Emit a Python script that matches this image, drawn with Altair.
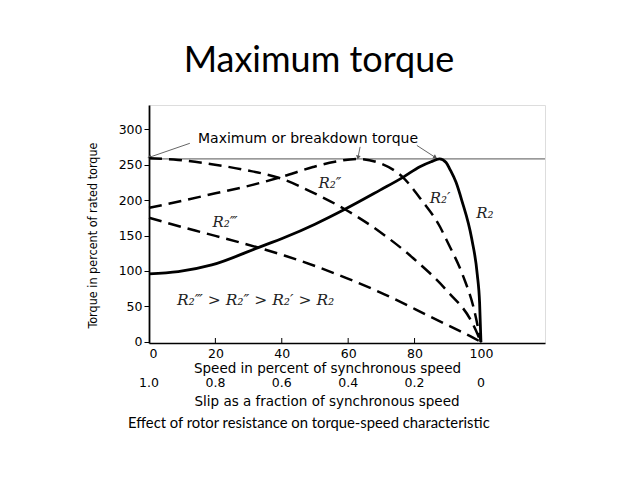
import math
import altair as alt
import pandas as pd

# ---------------- data ----------------
# speed in percent of synchronous speed, torque in percent of rated torque
speed_r2 = [0, 8.8, 18.9, 32.9, 41, 50, 59, 69.6, 76.5, 81.6, 85, 87.5, 89.5, 90.7, 92.5, 94.2, 97.2, 98.9, 99.6, 100]
torque_r2 = [96, 99, 108.5, 133, 147.5, 166, 187, 214, 232, 247, 254, 258, 253, 243, 225, 200, 146, 95, 55, 0]

speed_r2p = [0, 10, 20, 30, 39.5, 49.4, 56, 62.7, 69.6, 76.5, 82.1, 87.7, 89.6, 94.7, 97.7, 100]
torque_r2p = [189, 199, 209.5, 220, 232, 246.5, 254, 258, 252, 232, 200, 162, 144, 92, 50, 0]

speed_r2pp = [0, 8.8, 18.9, 28.9, 40, 49.4, 59, 69.6, 79.6, 89.6, 97.6, 100]
torque_r2pp = [259, 256.5, 250.5, 242.5, 230, 210.5, 187, 155, 118, 73, 25, 0]

speed_r2ppp = [0, 13.9, 20, 32.9, 41, 59.5, 69.6, 84.6, 92, 97.6, 100]
torque_r2ppp = [175, 157, 149.5, 133, 121.5, 90, 70, 36, 19, 6, 0]

max_torque = [258]

speed_ticks = [0, 20, 40, 60, 80, 100]
inner_ticks = [20, 40, 60, 80, 100]
slip_labels = ["1.0", "0.8", "0.6", "0.4", "0.2", "0"]
slip_values = [1.0, 0.8, 0.6, 0.4, 0.2, 0.0]
torque_ticks = [0, 50, 100, 150, 200, 250, 300]

curve_label_text = ["R\u2082\u2034", "R\u2082\u2033", "R\u2082\u2032", "R\u2082"]
curve_label_speed = [22.9, 54.5, 87.7, 101.2]
curve_label_torque = [169, 224, 203, 182]

relation_text = ["R\u2082\u2034 > R\u2082\u2033 > R\u2082\u2032 > R\u2082"]
relation_speed = [8.4]
relation_torque = [59]

annotation_text = ["Maximum or breakdown torque"]
annotation_speed = [47.9]
annotation_torque = [286]

arrow_from_speed = [12.3, 63.6, 80.7]
arrow_from_torque = [280, 275, 277]
arrow_to_speed = [0.3, 63.0, 86.1]
arrow_to_torque = [260.6, 261, 260.6]

title_text = ["Maximum torque"]
caption_text = ["Effect of rotor resistance on torque-speed characteristic"]
slip_title_text = ["Slip as a fraction of synchronous speed"]

# ---------------- layout ----------------
W, H = 396, 238
XDOM = [0, 119.3]
YDOM = [-1.5, 334]

xscale = alt.Scale(domain=XDOM, nice=False, zero=False)
yscale = alt.Scale(domain=YDOM, nice=False, zero=False)

AX = alt.Axis(
    values=speed_ticks, ticks=False, labelPadding=4, labelBaseline="top",
    labelFont="DejaVu Sans", labelFontSize=12.5, labelColor="black",
    domainColor="black", domainWidth=1.6, grid=False,
    title="Speed in percent of synchronous speed", titleFont="DejaVu Sans",
    titleFontSize=13.5, titleFontWeight="normal", titleColor="black",
    titleY=25, titleBaseline="middle", titleX=178, titleAnchor="middle",
)
AY = alt.Axis(
    values=torque_ticks, tickSize=5, tickColor="black", labelPadding=2,
    labelFont="DejaVu Sans", labelFontSize=12.5, labelColor="black",
    domainColor="black", domainWidth=1.8, grid=False,
    title="Torque in percent of rated torque",
    titleFont="Liberation Sans Narrow, DejaVu Sans Condensed, Arial Narrow, sans-serif",
    titleFontSize=12.5, titleFontWeight="normal", titleColor="black",
    titleX=-57, titleY=130, titleAngle=270, titleAlign="center", titleBaseline="middle",
)


def X(field):
    return alt.X(f"{field}:Q", scale=xscale, axis=AX)


def Y(field):
    return alt.Y(f"{field}:Q", scale=yscale, axis=AY)


solid_df = pd.DataFrame({"speed": speed_r2, "torque": torque_r2})
dashed_rows = []
for name, sp, tq in [("R2'", speed_r2p, torque_r2p),
                     ("R2''", speed_r2pp, torque_r2pp),
                     ("R2'''", speed_r2ppp, torque_r2ppp)]:
    for s, t in zip(sp, tq):
        dashed_rows.append({"series": name, "speed": s, "torque": t})
dashed_df = pd.DataFrame(dashed_rows)

solid = alt.Chart(solid_df).mark_line(
    color="black", strokeWidth=2.8, interpolate="monotone"
).encode(x=X("speed"), y=Y("torque"), order="speed:Q")

dashed = alt.Chart(dashed_df).mark_line(
    color="black", strokeWidth=2.5, strokeDash=[13, 7], interpolate="monotone"
).encode(x=X("speed"), y=Y("torque"), detail="series:N", order="speed:Q")

max_line = alt.Chart(pd.DataFrame({"torque": max_torque})).mark_rule(
    color="#555555", strokeWidth=1
).encode(y=Y("torque"))

# arrows
px_per_x = W / (XDOM[1] - XDOM[0])
px_per_y = H / (YDOM[1] - YDOM[0])
angles = []
for fs, ft, ts, tt in zip(arrow_from_speed, arrow_from_torque, arrow_to_speed, arrow_to_torque):
    dx = (ts - fs) * px_per_x
    dy = -(tt - ft) * px_per_y
    angles.append(math.degrees(math.atan2(dx, -dy)) % 360)
arrow_df = pd.DataFrame({
    "speed": arrow_from_speed, "torque": arrow_from_torque,
    "speed2": arrow_to_speed, "torque2": arrow_to_torque, "ang": angles,
})
arrows = alt.Chart(arrow_df).mark_rule(color="#666666", strokeWidth=1).encode(
    x=X("speed"), y=Y("torque"), x2="speed2:Q", y2="torque2:Q"
)
heads = alt.Chart(arrow_df).mark_point(
    shape="triangle", filled=True, color="#555555", size=22, opacity=1
).encode(x=X("speed2"), y=Y("torque2"), angle=alt.Angle("ang:Q", scale=None))

annot = alt.Chart(pd.DataFrame({
    "t": annotation_text, "speed": annotation_speed, "torque": annotation_torque
})).mark_text(font="DejaVu Sans", fontSize=14, color="black").encode(
    x=X("speed"), y=Y("torque"), text="t:N"
)

curve_labels = alt.Chart(pd.DataFrame({
    "t": curve_label_text, "speed": curve_label_speed, "torque": curve_label_torque
})).mark_text(font="DejaVu Serif", fontStyle="italic", fontSize=15, color="#222222").encode(
    x=X("speed"), y=Y("torque"), text="t:N"
)

relation = alt.Chart(pd.DataFrame({
    "t": relation_text, "speed": relation_speed, "torque": relation_torque
})).mark_text(font="DejaVu Serif", fontStyle="italic", fontSize=15.5, color="#222222",
              align="left").encode(
    x=X("speed"), y=Y("torque"), text="t:N"
)

tick_df = pd.DataFrame({"speed": inner_ticks})
inner = alt.Chart(tick_df).mark_rule(color="black", strokeWidth=1).encode(
    x=X("speed"), y=alt.value(H), y2=alt.value(H - 5)
)

slip_df = pd.DataFrame({"slip": slip_values, "lab": slip_labels})
slip_text = alt.Chart(slip_df).transform_calculate(
    speed="100 * (1 - datum.slip)"
).mark_text(font="DejaVu Sans", fontSize=12.5, color="black", baseline="middle").encode(
    x=X("speed"), y=alt.value(H + 40), text="lab:N"
)

slip_title = alt.Chart(pd.DataFrame({"t": slip_title_text})).mark_text(
    font="DejaVu Sans", fontSize=13.5, color="black", baseline="middle"
).encode(x=alt.value(178), y=alt.value(H + 59), text="t:N")

caption = alt.Chart(pd.DataFrame({"t": caption_text})).mark_text(
    font="Lato", fontSize=14.8, color="black", baseline="middle", align="left"
).encode(x=alt.value(-21), y=alt.value(H + 81), text="t:N")

title = alt.Chart(pd.DataFrame({"t": title_text})).mark_text(
    font="Lato", fontSize=36, color="black", baseline="alphabetic", align="center"
).encode(x=alt.value(170), y=alt.value(-33), text="t:N")

chart = alt.layer(
    max_line, arrows, heads, dashed, solid, inner, annot, curve_labels, relation,
    slip_text, slip_title, caption, title,
).properties(
    width=W, height=H,
    autosize=alt.AutoSizeParams(type="none"),
    padding={"left": 141, "top": 97, "right": 85, "bottom": 127},
).configure_view(stroke=None).configure(background="white")

chart.save("out.html", embed_options={"renderer": "svg", "actions": False})
